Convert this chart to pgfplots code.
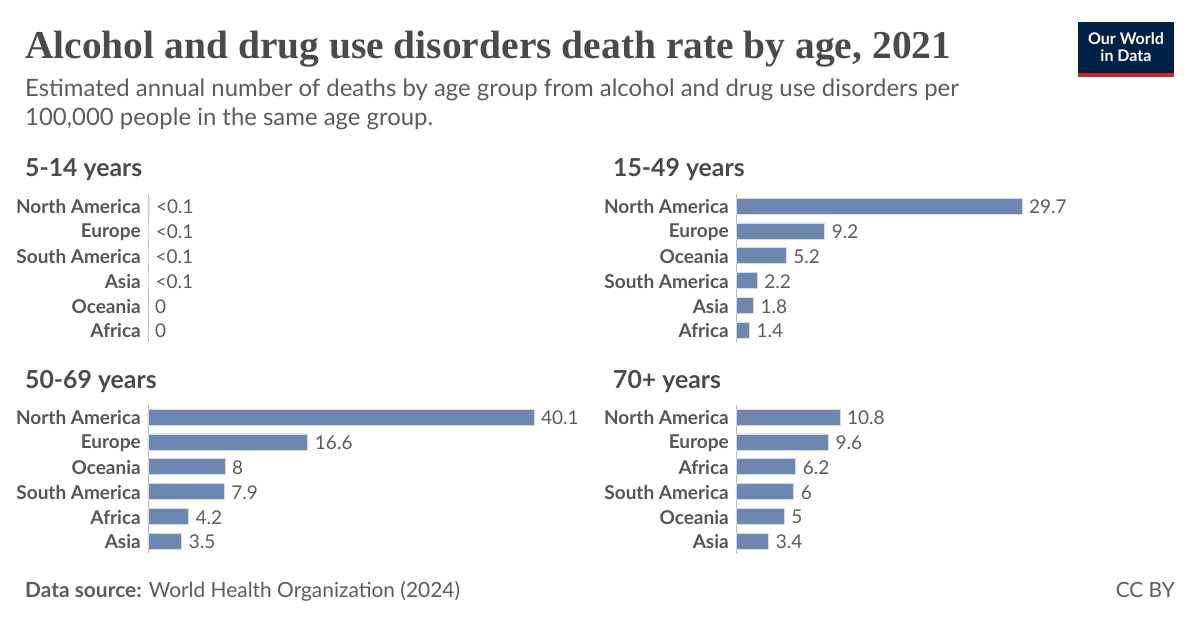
\documentclass[border=0pt]{standalone}
\usepackage{fontspec}
\setmainfont{Lato}
\newfontfamily\titlefont{Liberation Serif}
\usepackage{pgfplots}
\usepackage{pgfplotstable}
\pgfplotsset{compat=1.18}

\definecolor{barblue}{HTML}{6D87B0}
\definecolor{titlegray}{HTML}{4A4A4A}
\definecolor{textgray}{HTML}{5B5B5B}
\definecolor{labgray}{HTML}{555555}
\definecolor{axisgray}{HTML}{B8B8B8}
\definecolor{owidnavy}{HTML}{002147}
\definecolor{owidred}{HTML}{CE261E}

% Death rates per 100,000 by age group, 2021
\pgfplotstableread[col sep=comma]{
pos,name,val,lab
0,North America,0.09,<0.1
1,Europe,0.06,<0.1
2,South America,0.04,<0.1
3,Asia,0.03,<0.1
4,Oceania,0,0
5,Africa,0,0
}\ageA
\pgfplotstableread[col sep=comma]{
pos,name,val,lab
0,North America,29.7,29.7
1,Europe,9.2,9.2
2,Oceania,5.2,5.2
3,South America,2.2,2.2
4,Asia,1.8,1.8
5,Africa,1.4,1.4
}\ageB
\pgfplotstableread[col sep=comma]{
pos,name,val,lab
0,North America,40.1,40.1
1,Europe,16.6,16.6
2,Oceania,8,8
3,South America,7.9,7.9
4,Africa,4.2,4.2
5,Asia,3.5,3.5
}\ageC
\pgfplotstableread[col sep=comma]{
pos,name,val,lab
0,North America,10.8,10.8
1,Europe,9.6,9.6
2,Africa,6.2,6.2
3,South America,6,6
4,Oceania,5,5
5,Asia,3.4,3.4
}\ageD

\pgfplotsset{
  panel/.style={
    scale only axis,
    width=433pt, height=148.8pt,
    xmin=0, xmax=45, ymin=-0.5, ymax=5.5,
    y dir=reverse,
    axis x line=none,
    axis y line*=left,
    y axis line style={axisgray, line width=0.8pt},
    ytick={0,...,5},
    major tick length=0pt,
    yticklabel style={font=\fontsize{19}{22}\selectfont\bfseries, text=labgray, inner sep=0pt, xshift=-7pt, yshift=-1pt},
    clip=false,
  },
  panelbar/.style={
    xbar, bar width=16pt, fill=barblue, draw=white!70!barblue, line width=0.5pt,
    point meta=explicit symbolic,
    nodes near coords,
    nodes near coords style={anchor=west, inner sep=0pt, xshift=7pt, yshift=-1pt,
      font=\fontsize{19}{22}\selectfont, text=textgray},
  },
}

\begin{document}
\begin{tikzpicture}
\useasboundingbox (0pt,0pt) rectangle (1200pt,-627pt);

% header
\node[anchor=base west, inner sep=0pt, text=titlegray]
  at (25pt,-58pt) {\titlefont\bfseries\fontsize{39.5}{44}\selectfont Alcohol and drug use disorders death rate by age, 2021};
\node[anchor=base west, inner sep=0pt, text=textgray]
  at (25pt,-96pt) {\fontsize{23.9}{28}\selectfont Estimated annual number of deaths by age group from alcohol and drug use disorders per};
\node[anchor=base west, inner sep=0pt, text=textgray]
  at (25pt,-125pt) {\fontsize{23.9}{28}\selectfont 100,000 people in the same age group.};

% logo
\fill[owidnavy] (1078pt,-22pt) rectangle (1174pt,-77pt);
\fill[owidred] (1078pt,-73pt) rectangle (1174pt,-77pt);
\node[align=center, text=white, inner sep=0pt, font=\fontsize{16}{17}\selectfont\bfseries]
  at (1126pt,-47pt) {Our World\\in Data};

% panel titles
\foreach \t/\x/\y in {5-14 years/25/-176, 15-49 years/613/-176, 50-69 years/25/-388, 70+ years/613/-388}
  \node[anchor=base west, inner sep=0pt, text=titlegray, font=\fontsize{24.8}{28}\selectfont\bfseries] at (\x pt,\y pt) {\t};

\begin{axis}[panel, at={(148pt,-193.6pt)}, anchor=north west,
  yticklabels from table={\ageA}{name}]
  \addplot[panelbar] table[x=val, y=pos, meta=lab] {\ageA};
\end{axis}

\begin{axis}[panel, at={(736pt,-193.6pt)}, anchor=north west,
  yticklabels from table={\ageB}{name}]
  \addplot[panelbar] table[x=val, y=pos, meta=lab] {\ageB};
\end{axis}

\begin{axis}[panel, at={(148pt,-404.6pt)}, anchor=north west,
  yticklabels from table={\ageC}{name}]
  \addplot[panelbar] table[x=val, y=pos, meta=lab] {\ageC};
\end{axis}

\begin{axis}[panel, at={(736pt,-404.6pt)}, anchor=north west,
  yticklabels from table={\ageD}{name}]
  \addplot[panelbar] table[x=val, y=pos, meta=lab] {\ageD};
\end{axis}

% footer
\node[anchor=base west, inner sep=0pt, text=textgray, font=\fontsize{20.9}{24}\selectfont]
  at (25pt,-597pt) {\textbf{Data source:} World Health Organization (2024)};
\node[anchor=base east, inner sep=0pt, text=textgray, font=\fontsize{20.9}{24}\selectfont]
  at (1175pt,-597pt) {CC BY};
\end{tikzpicture}
\end{document}
